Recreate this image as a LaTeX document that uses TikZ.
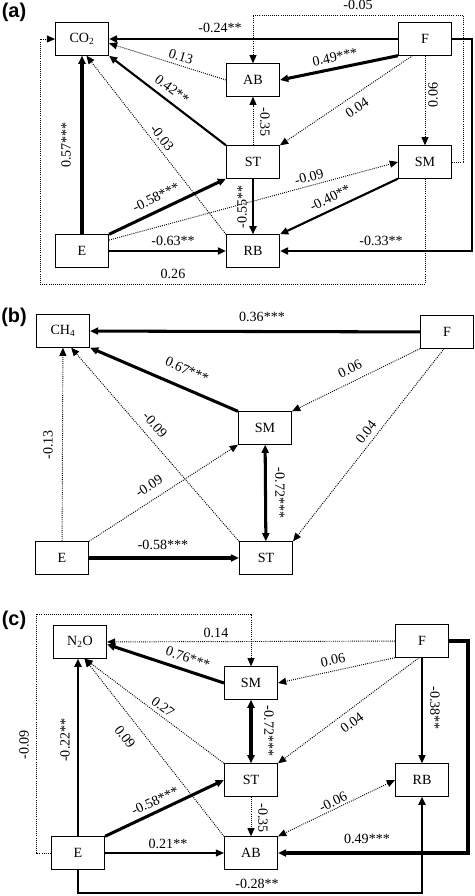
\documentclass[tikz,border=0pt]{standalone}
\usepackage{fontspec}
\setmainfont{Liberation Serif}
\newfontfamily\panelfont{Liberation Sans}
\usetikzlibrary{arrows.meta,calc}

\begin{document}
\begin{tikzpicture}[x=0.03cm,y=-0.03cm,
  vbox/.style={draw,line width=0.9pt,minimum width=1.59cm,minimum height=0.97cm,
    inner sep=0pt,font=\fontsize{12}{14}\selectfont},
  lab/.style={font=\fontsize{12}{14}\selectfont,inner sep=0pt},
  panel/.style={font=\panelfont\bfseries\fontsize{17}{20}\selectfont},
  arr/.style={-{Triangle[length=7pt,width=6pt]}},
  dbl/.style={{Triangle[length=7pt,width=6pt]}-{Triangle[length=7pt,width=6pt]}},
  sig/.style={line width=1.8pt},
  strong/.style={line width=2.6pt},
  weak/.style={line width=1.1pt},
  ns/.style={line width=0.8pt,dash pattern=on 0.8pt off 1pt}
]
  \useasboundingbox (0,0) rectangle (474,896);

  % Panel (a)
  \node[panel] (pa) at (14,12) {(a)};
  \node[vbox] (co2) at (82,39) {CO\textsubscript{2}};
  \node[vbox] (fa) at (425,39) {F};
  \node[vbox] (aba) at (253,80) {AB};
  \node[vbox] (sta) at (253,162) {ST};
  \node[vbox] (sma) at (425,162) {SM};
  \node[vbox] (ea) at (82,251) {E};
  \node[vbox] (rba) at (253,251) {RB};

  \draw[sig,arr] (fa) -- (co2);
  \draw[strong,arr] (fa.south west) -- (aba.east);
  \draw[ns,arr] (fa.-127) -- (sta.north east);
  \draw[ns,arr] (fa) -- (sma);
  \draw[ns,arr] (sma.east) -| (463,15) -| (aba.north);
  \draw[sig,arr] (fa.east) -| (472,251) -- (rba.east);
  \draw[ns,arr] (sma.south) |- (40,284) |- (co2.west);
  \draw[ns,arr] (aba.west) -- (co2.-9);
  \draw[sig,arr] (sta.north west) -- (co2.south east);
  \draw[ns,arr] (rba.north west) -- (co2.-75);
  \draw[ns,arr] (sta) -- (aba);
  \draw[strong,arr] (ea) -- (co2);
  \draw[strong,arr] (ea.north east) -- (sta.south west);
  \draw[ns,arr] (ea.22) -- (sma.west);
  \draw[sig,arr] (sta) -- (rba);
  \draw[sig,arr] (sma.south west) -- (rba.north east);
  \draw[sig,arr] (ea) -- (rba);

  \node[lab] (la1) at (220,28) {-0.24**};
  \node[lab,rotate=12] (la2) at (335,57) {0.49***};
  \node[lab,rotate=34] (la3) at (357,108) {0.04};
  \node[lab,rotate=90] (la4) at (433,95) {0.06};
  \node[lab] (la5) at (358,5) {-0.05};
  \node[lab] (la6) at (381,241) {-0.33**};
  \node[lab] (la7) at (173,274) {0.26};
  \node[lab,rotate=-17] (la8) at (181,57) {0.13};
  \node[lab,rotate=-37] (la9) at (172,89) {0.42**};
  \node[lab,rotate=-52] (la10) at (162,138) {-0.03};
  \node[lab,rotate=-90] (la11) at (265,122) {-0.35};
  \node[lab,rotate=90] (la12) at (66,145) {0.57***};
  \node[lab,rotate=26] (la13) at (156,197) {-0.58***};
  \node[lab,rotate=15] (la14) at (309,177) {-0.09};
  \node[lab,rotate=90] (la15) at (242,207) {-0.55**};
  \node[lab,rotate=26] (la16) at (330,198) {-0.40**};
  \node[lab] (la17) at (173,241) {-0.63**};

  % Panel (b)
  \node[panel] (pb) at (14,317) {(b)};
  \node[vbox] (ch4) at (63,331) {CH\textsubscript{4}};
  \node[vbox] (fb) at (447,332) {F};
  \node[vbox] (smb) at (265,428) {SM};
  \node[vbox] (eb) at (62,558) {E};
  \node[vbox] (stb) at (266,558) {ST};

  \draw[strong,arr] (fb) -- (ch4);
  \draw[strong,arr] (smb.north west) -- (ch4.south east);
  \draw[ns,arr] (fb.south west) -- (smb.north east);
  \draw[ns,arr] (fb.-100) -- (stb.north east);
  \draw[ns,arr] (eb) -- (ch4);
  \draw[ns,arr] (stb.north west) -- (ch4.-64);
  \draw[ns,arr] (eb.north east) -- (smb.south west);
  \draw[strong,dbl] (smb) -- (stb);
  \draw[strong,arr] (eb) -- (stb);

  \node[lab] (lb1) at (262,317) {0.36***};
  \node[lab,rotate=-24] (lb2) at (187,370) {0.67***};
  \node[lab,rotate=26] (lb3) at (350,369) {0.06};
  \node[lab,rotate=52] (lb4) at (366,432) {0.04};
  \node[lab,rotate=90] (lb5) at (48,445) {-0.13};
  \node[lab,rotate=-49] (lb6) at (155,425) {-0.09};
  \node[lab,rotate=33] (lb7) at (149,486) {-0.09};
  \node[lab,rotate=-90] (lb8) at (280,493) {-0.72***};
  \node[lab] (lb9) at (163,545) {-0.58***};

  % Panel (c)
  \node[panel] (pc) at (14,620) {(c)};
  \node[vbox] (n2o) at (80,642) {N\textsubscript{2}O};
  \node[vbox] (fc) at (422,641) {F};
  \node[vbox] (smc) at (251,683) {SM};
  \node[vbox] (stc) at (251,780) {ST};
  \node[vbox] (rbc) at (422,780) {RB};
  \node[vbox] (ec) at (78,853) {E};
  \node[vbox] (abc) at (251,853) {AB};

  \draw[ns,arr] (ec.west) -| (36,614) -| (smc.north);
  \draw[ns,arr] (fc) -- (n2o);
  \draw[strong,arr] (smc.west) -- (n2o.-5);
  \draw[ns,arr] (fc.south west) -- (smc.east);
  \draw[ns,arr] (fc.-100) -- (stc.north east);
  \draw[weak,arr] (fc) -- (rbc);
  \draw[strong,arr] (fc.east) -| (468,853) -- (abc.east);
  \draw[ns,arr] (stc.north west) -- (n2o.-75);
  \draw[ns,arr] (abc.north west) -- (n2o.-75);
  \draw[sig,arr] (ec.north) -- (ec.north |- n2o.south);
  \draw[strong,dbl] (smc) -- (stc);
  \draw[ns,arr] (stc) -- (abc);
  \draw[ns,dbl] (rbc.west) -- (abc.north east);
  \draw[strong,arr] (ec.north east) -- (stc.west);
  \draw[weak,arr] (ec) -- (abc);
  \draw[sig,arr] (ec.south) -- (78,893) -| (rbc.south);

  \node[lab,rotate=90] (lc1) at (24,745) {-0.09};
  \node[lab] (lc2) at (216,633) {0.14};
  \node[lab,rotate=-19] (lc3) at (188,658) {0.76***};
  \node[lab,rotate=12] (lc4) at (333,660) {0.06};
  \node[lab,rotate=36] (lc5) at (352,723) {0.04};
  \node[lab,rotate=-90] (lc6) at (435,708) {-0.38**};
  \node[lab] (lc7) at (367,839) {0.49***};
  \node[lab,rotate=-37] (lc8) at (163,707) {0.27};
  \node[lab,rotate=-52] (lc9) at (125,737) {0.09};
  \node[lab,rotate=90] (lc10) at (65,740) {-0.22**};
  \node[lab,rotate=-90] (lc11) at (269,731) {-0.72***};
  \node[lab,rotate=-90] (lc12) at (263,818) {-0.35};
  \node[lab,rotate=26] (lc13) at (333,802) {-0.06};
  \node[lab,rotate=25] (lc14) at (155,801) {-0.58***};
  \node[lab] (lc15) at (168,844) {0.21**};
  \node[lab] (lc16) at (257,884) {-0.28**};
\end{tikzpicture}
\end{document}
